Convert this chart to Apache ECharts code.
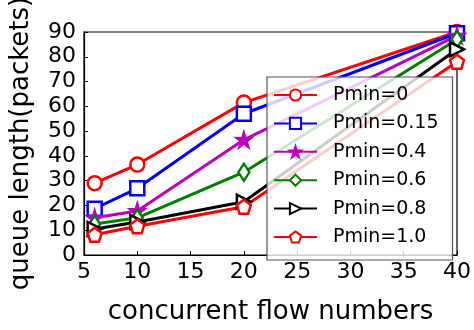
<!DOCTYPE html>
<html><head><meta charset="utf-8">
<script src="https://cdn.jsdelivr.net/npm/echarts@6/dist/echarts.min.js"></script>
<style>html,body{margin:0;padding:0;background:#fff}#c{width:474px;height:330px}</style>
</head><body><div id="c"></div>
<script>
const flows = [6, 10, 20, 40];
const seriesNames = ['Pmin=0', 'Pmin=0.15', 'Pmin=0.4', 'Pmin=0.6', 'Pmin=0.8', 'Pmin=1.0'];
const p0   = [29, 36.5, 61.5, 90];
const p015 = [18.7, 26.9, 57, 89.5];
const p04  = [15, 17.8, 46.5, 88.5];
const p06  = [12.5, 15, 33.4, 87];
const p08  = [10.5, 13.3, 21.5, 83];
const p10  = [8.2, 11.6, 19.5, 78];
const xTicks = [5, 10, 15, 20, 25, 30, 35, 40];
const yTicks = [0, 10, 20, 30, 40, 50, 60, 70, 80, 90];

const star = 'path://M50 0 L61.2 34.6 L97.6 34.5 L68.1 55.9 L79.4 90.5 L50 69 L20.6 90.5 L31.9 55.9 L2.4 34.5 L38.8 34.6 Z';
const penta = 'path://M50 0 L97.6 34.5 L79.4 90.5 L20.6 90.5 L2.4 34.5 Z';
const styles = [
  {c:'#ff0000', sym:'circle', size:14, fill:'#fff'},
  {c:'#0000ff', sym:'rect', size:14, fill:'#fff'},
  {c:'#bf00bf', sym:star, size:14, fill:'#bf00bf'},
  {c:'#008000', sym:'diamond', size:[11,17], fill:'#fff'},
  {c:'#000000', sym:'triangle', size:14, fill:'#fff', rot:-90},
  {c:'#ff0000', sym:penta, size:14, fill:'#fff'}
];
const allData = [p0, p015, p04, p06, p08, p10];
const series = allData.map((vals, i) => ({
  name: seriesNames[i],
  type: 'line',
  data: vals.map((v, j) => [flows[j], v]),
  symbol: styles[i].sym,
  symbolSize: styles[i].size,
  symbolRotate: styles[i].rot || 0,
  showAllSymbol: true,
  clip: true,
  lineStyle: {color: styles[i].c, width: 3},
  itemStyle: {color: styles[i].fill, borderColor: styles[i].c, borderWidth: 2.5},
  emphasis: {disabled: true}
}));
const font = 'DejaVu Sans';
const chart = echarts.init(document.getElementById('c'), null, {renderer: 'canvas'});
chart.setOption({
  animation: false,
  backgroundColor: '#fff',
  textStyle: {fontFamily: font},
  grid: {left: 72, right: 13, top: 32, bottom: 60, show: true, borderColor: '#000', borderWidth: 1.2},
  xAxis: {
    type: 'value', min: 5, max: 40, interval: 5,
    name: 'concurrent flow numbers', nameLocation: 'middle', nameGap: 44,
    nameTextStyle: {fontFamily: font, fontSize: 26, color: '#000'},
    axisLine: {show: true, lineStyle: {color: '#000', width: 1.2}},
    axisTick: {show: true, inside: true, length: 4, lineStyle: {color: '#000'}},
    axisLabel: {fontFamily: font, fontSize: 22, color: '#000', margin: 6,
      formatter: v => xTicks.includes(v) ? String(v) : ''},
    splitLine: {show: false}
  },
  yAxis: {
    type: 'value', min: 0, max: 90, interval: 10,
    name: 'queue length(packets)', nameLocation: 'middle', nameGap: 50,
    nameTextStyle: {fontFamily: font, fontSize: 26, color: '#000'},
    axisLine: {show: true, lineStyle: {color: '#000', width: 1.2}},
    axisTick: {show: true, inside: true, length: 4, lineStyle: {color: '#000'}},
    axisLabel: {fontFamily: font, fontSize: 22, color: '#000', margin: 8,
      formatter: v => yTicks.includes(v) ? String(v) : ''},
    splitLine: {show: false}
  },
  legend: {
    orient: 'vertical', left: 267, top: 77, z: 20,
    padding: [8, 14, 13, 6],
    itemWidth: 43, itemHeight: 14, itemGap: 8.4,
    backgroundColor: 'rgba(255,255,255,0.8)',
    borderColor: '#555', borderWidth: 1.2,
    textStyle: {fontFamily: font, fontSize: 19, color: '#000', lineHeight: 20, padding: [0,0,0,11]},
    data: seriesNames
  },
  series: series
});
</script></body></html>
